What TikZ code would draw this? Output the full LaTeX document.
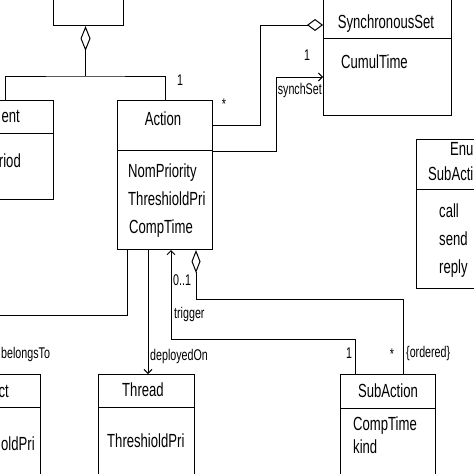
\documentclass[tikz,border=0pt]{standalone}
\usepackage{fontspec}
\setmainfont{Liberation Sans}[FakeStretch=0.69]
\usepackage{tikz}
\usetikzlibrary{arrows.meta}
\newcommand{\classfont}{\fontsize{19}{22}\selectfont}
\newcommand{\labelfont}{\fontsize{15.5}{18}\selectfont}
\tikzset{
  classbox/.style={draw, line width=1pt, inner sep=0pt, anchor=north west},
  ctext/.style={font=\classfont, inner sep=0pt},
  ltext/.style={font=\labelfont, inner sep=0pt},
  conn/.style={line width=1pt},
  aggr/.style 2 args={conn, {Diamond[open,length=#1,width=#2]}-},
  nav/.style={conn, -{Straight Barb[length=4pt,width=8pt]}}
}

\begin{document}
\begin{tikzpicture}[x=1pt,y=-1pt]
			\useasboundingbox (0,0) rectangle (474,474);
			\clip (0,0) rectangle (474,474);
			\foreach \n/\x/\y/\w/\h in
			{topBox/53/-5/70/30, entHead/-5/100/58/33, entBody/-5/133/58/66,
			 actionHead/117/100/95/50, actionBody/117/150/95/99,
			 syncHead/323/-5/128/43, syncBody/323/38/128/77,
			 enumHead/416/139/64/50, enumBody/416/189/64/99,
			 objHead/-5/374/45/33, objBody/-5/407/45/73,
			 threadHead/98/374/96/33, threadBody/98/407/96/73,
			 subHead/340/374/95/34, subBody/340/408/95/72}{
				\node[classbox, minimum width=\w pt, minimum height=\h pt] (\n) at (\x,\y) {};
			}
			
			\foreach \n/\x/\y/\t in
			{actionName/163/125/Action, syncName/386/28/SynchronousSet,
			 threadName/143/396/Thread, subName/388/397/SubAction}{
				\node[ctext, anchor=base] (\n) at (\x,\y) {\t};
			}
			\foreach \n/\x/\y/\t in
			{nomPri/128/177/NomPriority, thrPri/128/205/ThreshioldPri, compTime/129/233/CompTime,
			 cumulTime/341/68/CumulTime, enumName/450/155/Enu, enumSub/428/180/SubActi,
			 callLit/439/217/call, sendLit/439/245/send, replyLit/439/273/reply,
			 threadPri/107/447/ThreshioldPri, subComp/353/430/CompTime, subKind/353/453/kind,
			 objAttr/1/450/oldPri}{
				\node[ctext, anchor=base west] (\n) at (\x,\y) {\t};
			}
			\foreach \n/\x/\y/\t in
			{entName/20/122/ent, entAttr/21/167/riod, objName/9/397/ct}{
				\node[ctext, anchor=base east] (\n) at (\x,\y) {\t};
			}
			
			\foreach \n/\x/\y/\t in
			{multTop/180/85/1, starAct/224/109/*, multSync/307/60/1,
			 multSub/349/358/1, starSub/392/359/*}{
				\node[ltext, anchor=base] (\n) at (\x,\y) {\t};
			}
			\foreach \n/\x/\y/\t in
			{multTrig/173/285/0..1, trigRole/174/318/trigger,
			 deployRole/150/360/deployedOn, orderedTag/406/357/\{ordered\},
			 belongsRole/1/358/belongsTo}{
				\node[ltext, anchor=base west] (\n) at (\x,\y) {\t};
			}
			\node[ltext, anchor=base east] (synchRole) at (322,94) {synchSet};
			
			\coordinate (offLeft) at (-10,315);
			\draw[aggr={25pt}{10pt}] ([xshift=-3pt]topBox.south) -- ++(0,50) coordinate (fork);
			\draw[conn] ([xshift=-19pt]entHead.north) |- (fork) -| (actionHead.north);
			\draw[aggr={16pt}{12pt}] ([yshift=-8pt]syncHead.west) -- ++(-63,0) |- (actionHead.east);
			\draw[nav] (actionHead.south east) -- ++(63,0) |- (syncBody.west);
			\draw[conn] ([xshift=10pt]actionBody.south west) |- (offLeft);
			\draw[nav] ([xshift=31pt]actionBody.south west) -- ([xshift=50pt]threadHead.north west);
			\draw[nav] ([xshift=15pt]subHead.north west) -- ++(0,-35) -| ([xshift=54pt]actionBody.south west);
			\draw[aggr={23pt}{9pt}] ([xshift=79pt]actionBody.south west) -- ++(0,49) -| ([xshift=63pt]subHead.north west);
		\end{tikzpicture}
\end{document}
